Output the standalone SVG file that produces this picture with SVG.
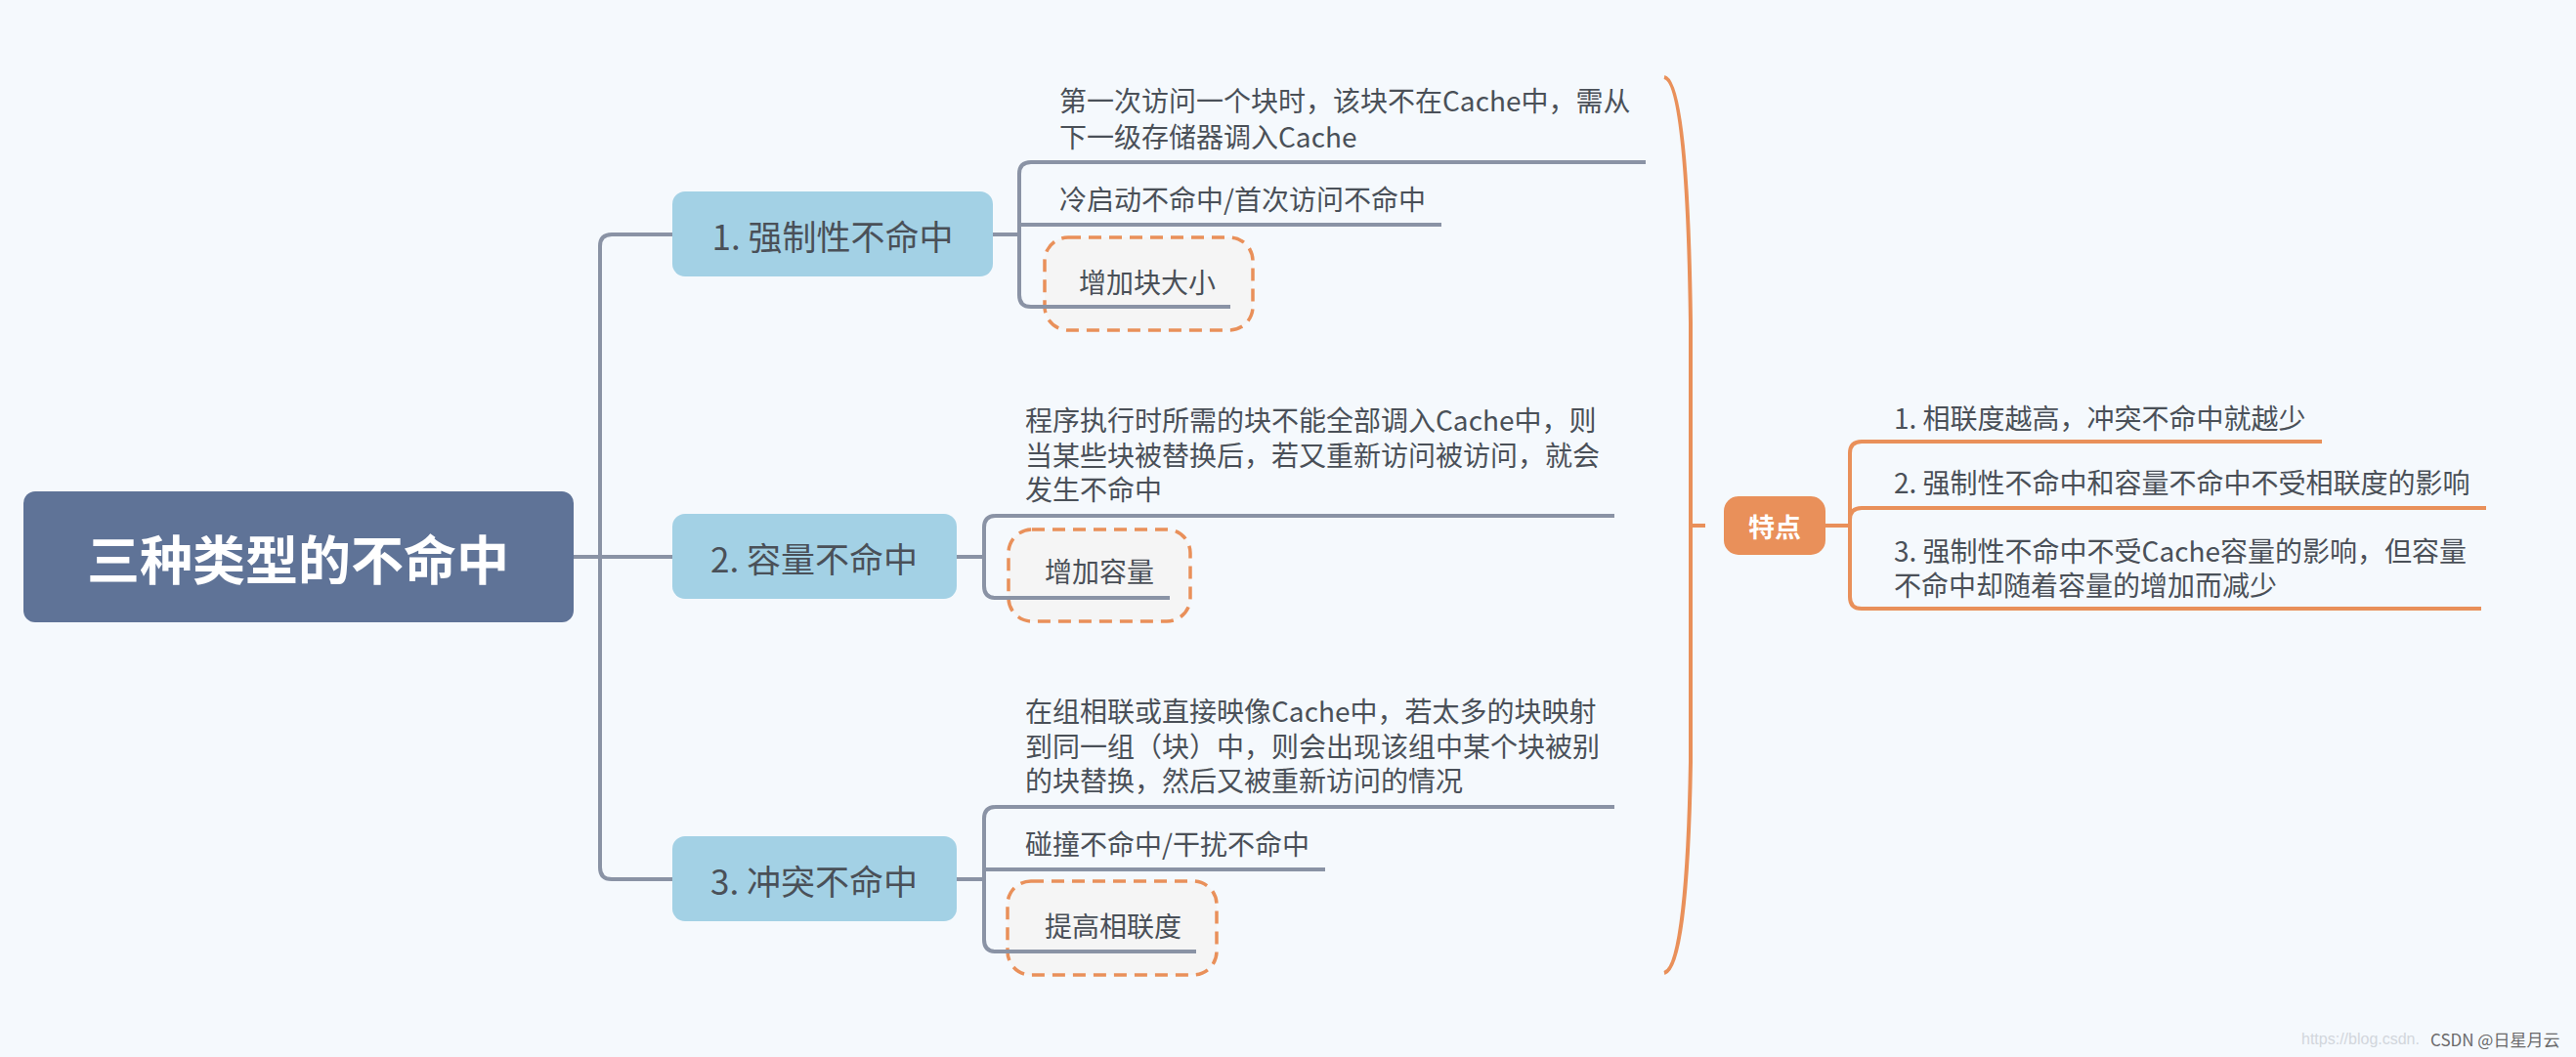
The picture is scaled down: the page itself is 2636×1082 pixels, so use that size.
<svg xmlns="http://www.w3.org/2000/svg" width="2636" height="1082" viewBox="0 0 2636 1082">
<style>
.t{font-family:"Noto Sans CJK SC","Noto Sans",sans-serif;fill:#4a5058;dominant-baseline:central}
.d{font-size:28px}
.b{font-size:35px;text-anchor:middle}
.g{fill:none;stroke:#8a93a5;stroke-width:4;stroke-linecap:butt}
.o{fill:none;stroke:#e9905a;stroke-width:4}
.bx{fill:#a3d1e5}
.ds{fill:#f5f5f5;stroke:#e9905a;stroke-width:3.5;stroke-dasharray:13 8}
</style>
<rect width="2636" height="1082" fill="#f5f9fd"/>
<g id="connectors">
<path class="g" d="M587 570 H688"/>
<path class="g" d="M688 240 H626 Q614 240 614 252 V888 Q614 900 626 900 H688"/>
<path class="g" d="M1016 240 H1043"/>
<path class="g" d="M979 570 H1007"/>
<path class="g" d="M979 900 H1007"/>
<path class="o" d="M1703 79 C1720 82 1728 180 1730 330 V780 C1728 900 1720 992 1703 996"/>
<path class="o" d="M1730 538 H1745"/>
<path class="o" d="M1868 538 H1893"/>
<path class="o" d="M2376 452 H1905 Q1893 452 1893 464 V611 Q1893 623 1905 623 H2539"/>
<path class="o" d="M1893 532 Q1893 520 1905 520 H2544"/>
</g>
<g id="root">
<rect x="24" y="503" width="563" height="134" rx="12" fill="#5f7397"/>
<text x="305" y="570" class="t" style="fill:#fff;font-size:54px;font-weight:bold;text-anchor:middle">三种类型的不命中</text>
</g>
<g id="n1">
<rect class="bx" x="688" y="196" width="328" height="87" rx="13"/>
<text class="t b" x="852" y="240">1. 强制性不命中</text>
</g>
<g id="n1a">
<text class="t d" x="1084" y="102">第一次访问一个块时，该块不在Cache中，需从</text>
<text class="t d" x="1084" y="139">下一级存储器调入Cache</text>
</g>
<g id="n1b">
<text class="t d" x="1084" y="203">冷启动不命中/首次访问不命中</text>
</g>
<g id="n1c">
<rect class="ds" x="1069" y="243" width="213" height="95" rx="24"/>
<text class="t d" x="1174" y="288" text-anchor="middle">增加块大小</text>
</g>
<g id="n1lines">
<path class="g" d="M1684 166 H1055 Q1043 166 1043 178 V302 Q1043 314 1055 314 H1259"/>
<path class="g" d="M1043 230 H1475"/>
</g>
<g id="n2">
<rect class="bx" x="688" y="526" width="291" height="87" rx="13"/>
<text class="t b" x="833" y="570">2. 容量不命中</text>
</g>
<g id="n2a">
<text class="t d" x="1049" y="429">程序执行时所需的块不能全部调入Cache中，则</text>
<text class="t d" x="1049" y="465">当某些块被替换后，若又重新访问被访问，就会</text>
<text class="t d" x="1049" y="500">发生不命中</text>
</g>
<g id="n2b">
<rect class="ds" x="1032" y="542" width="186" height="94" rx="24"/>
<text class="t d" x="1125" y="584" text-anchor="middle">增加容量</text>
</g>
<g id="n2lines">
<path class="g" d="M1652 528 H1019 Q1007 528 1007 540 V600 Q1007 612 1019 612 H1197"/>
</g>
<g id="n3">
<rect class="bx" x="688" y="856" width="291" height="87" rx="13"/>
<text class="t b" x="833" y="900">3. 冲突不命中</text>
</g>
<g id="n3a">
<text class="t d" x="1049" y="727">在组相联或直接映像Cache中，若太多的块映射</text>
<text class="t d" x="1049" y="763">到同一组（块）中，则会出现该组中某个块被别</text>
<text class="t d" x="1049" y="798">的块替换，然后又被重新访问的情况</text>
</g>
<g id="n3b">
<text class="t d" x="1049" y="863">碰撞不命中/干扰不命中</text>
</g>
<g id="n3c">
<rect class="ds" x="1031" y="902" width="214" height="96" rx="24"/>
<text class="t d" x="1139" y="947" text-anchor="middle">提高相联度</text>
</g>
<g id="n3lines">
<path class="g" d="M1652 826 H1019 Q1007 826 1007 838 V962 Q1007 974 1019 974 H1224"/>
<path class="g" d="M1007 890 H1356"/>
</g>
<g id="tedian">
<rect x="1764" y="508" width="104" height="60" rx="15" fill="#e9905a"/>
<text class="t" x="1816" y="538" style="fill:#fff;font-size:27px;font-weight:bold;text-anchor:middle">特点</text>
</g>
<g id="f1"><text class="t d" x="1938" y="427">1. 相联度越高，冲突不命中就越少</text></g>
<g id="f2"><text class="t d" x="1938" y="493">2. 强制性不命中和容量不命中不受相联度的影响</text></g>
<g id="f3">
<text class="t d" x="1938" y="563">3. 强制性不命中不受Cache容量的影响，但容量</text>
<text class="t d" x="1938" y="598">不命中却随着容量的增加而减少</text>
</g>
<g id="watermark">
<text x="2355" y="1063" style="font-family:'Liberation Sans',sans-serif;font-size:16px;fill:#d2d6dc;dominant-baseline:central">https://blog.csdn.</text>
<text x="2487" y="1063" style="font-family:'Noto Sans CJK SC',sans-serif;font-size:17px;fill:#6a6a6a;dominant-baseline:central">CSDN @日星月云</text>
</g>
</svg>
